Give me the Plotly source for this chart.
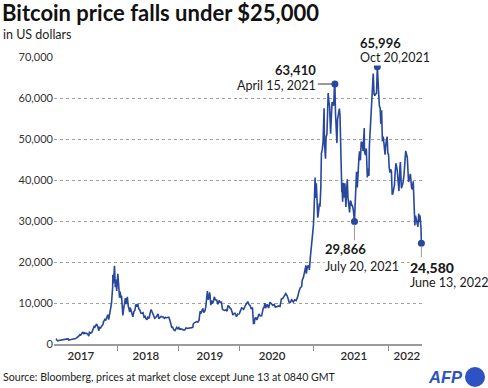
import plotly.graph_objects as go

# ---------------- data ----------------
dates_2017_2019 = [
    "2017-01-01", "2017-01-04", "2017-01-07", "2017-01-11", "2017-01-18", "2017-01-25",
    "2017-02-01", "2017-02-08", "2017-02-15", "2017-02-22", "2017-03-01", "2017-03-08",
    "2017-03-15", "2017-03-18", "2017-03-25", "2017-04-01", "2017-04-08", "2017-04-15",
    "2017-04-22", "2017-04-29", "2017-05-06", "2017-05-13", "2017-05-20", "2017-05-25",
    "2017-05-27", "2017-06-03", "2017-06-11", "2017-06-15", "2017-06-20", "2017-06-27",
    "2017-07-04", "2017-07-11", "2017-07-16", "2017-07-20", "2017-07-27", "2017-08-03",
    "2017-08-10", "2017-08-17", "2017-08-22", "2017-08-31", "2017-09-01", "2017-09-08",
    "2017-09-14", "2017-09-18", "2017-09-25", "2017-10-02", "2017-10-09", "2017-10-12",
    "2017-10-20", "2017-10-25", "2017-11-01", "2017-11-07", "2017-11-12", "2017-11-17",
    "2017-11-22", "2017-11-29", "2017-12-01", "2017-12-06", "2017-12-07", "2017-12-10",
    "2017-12-13", "2017-12-17", "2017-12-22", "2017-12-26", "2017-12-30",
    "2018-01-03", "2018-01-06", "2018-01-10", "2018-01-16", "2018-01-20", "2018-01-24",
    "2018-01-28", "2018-02-01", "2018-02-05", "2018-02-09", "2018-02-15", "2018-02-20",
    "2018-02-25", "2018-03-04", "2018-03-09", "2018-03-14", "2018-03-18", "2018-03-21",
    "2018-03-28", "2018-04-01", "2018-04-06", "2018-04-12", "2018-04-18", "2018-04-24",
    "2018-05-01", "2018-05-05", "2018-05-12", "2018-05-18", "2018-05-24", "2018-05-31",
    "2018-06-06", "2018-06-12", "2018-06-18", "2018-06-24", "2018-06-29", "2018-07-05",
    "2018-07-12", "2018-07-17", "2018-07-24", "2018-07-31", "2018-08-07", "2018-08-11",
    "2018-08-14", "2018-08-21", "2018-08-28", "2018-09-04", "2018-09-08", "2018-09-15",
    "2018-09-22", "2018-09-29", "2018-10-06", "2018-10-11", "2018-10-18", "2018-10-25",
    "2018-11-01", "2018-11-07", "2018-11-14", "2018-11-19", "2018-11-20", "2018-11-25",
    "2018-11-28", "2018-12-03", "2018-12-07", "2018-12-14", "2018-12-19", "2018-12-24",
    "2018-12-28", "2018-12-31",
    "2019-01-06", "2019-01-10", "2019-01-17", "2019-01-24", "2019-01-31", "2019-02-07",
    "2019-02-14", "2019-02-19", "2019-02-24", "2019-03-03", "2019-03-10", "2019-03-17",
    "2019-03-24", "2019-03-31", "2019-04-02", "2019-04-09", "2019-04-16", "2019-04-23",
    "2019-04-30", "2019-05-07", "2019-05-11", "2019-05-14", "2019-05-17", "2019-05-21",
    "2019-05-26", "2019-05-30", "2019-06-04", "2019-06-11", "2019-06-16", "2019-06-22",
    "2019-06-26", "2019-06-27", "2019-07-02", "2019-07-09", "2019-07-12", "2019-07-16",
    "2019-07-21", "2019-07-26", "2019-08-01", "2019-08-06", "2019-08-13", "2019-08-20",
    "2019-08-28", "2019-09-04", "2019-09-11", "2019-09-18", "2019-09-24", "2019-09-30",
    "2019-10-08", "2019-10-15", "2019-10-22", "2019-10-26", "2019-11-01", "2019-11-08",
    "2019-11-15", "2019-11-22", "2019-11-25", "2019-12-01", "2019-12-08", "2019-12-17",
    "2019-12-24", "2019-12-31",
]
prices_2017_2019 = [
    998, 1130, 900, 780, 870, 890,
    990, 1060, 1010, 1120, 1190, 1150,
    1250, 970, 960, 1080, 1180, 1180,
    1230, 1350, 1550, 1720, 2040, 2400,
    2050, 2520, 2950, 2440, 2740, 2580,
    2600, 2320, 1930, 2860, 2680, 2800,
    3420, 4300, 4090, 4700, 4890, 4230,
    3230, 4070, 3930, 4400, 4780, 5430,
    6000, 5740, 6750, 7140, 5950, 7790,
    8230, 9890, 10860, 13800, 16870, 14800,
    16400, 19100, 13830, 15750, 12950,
    15200, 17100, 14900, 11300, 12800, 11200,
    11800, 9150, 6950, 8300, 10100, 11200,
    9700, 11500, 9300, 8100, 7800, 8900,
    7900, 6800, 6630, 7900, 8200, 9650,
    9100, 9850, 8500, 8250, 7500, 7500,
    7650, 6550, 6750, 6150, 5900, 6550,
    6250, 7320, 8400, 7730, 6990, 6240,
    6270, 6500, 7100, 7360, 6200, 6520,
    6720, 6620, 6590, 6250, 6480, 6400,
    6380, 6530, 5740, 4800, 4450, 3930,
    4280, 3850, 3400, 3240, 3690, 4060,
    3880, 3740,
    4040, 3630, 3680, 3600, 3460, 3400,
    3590, 3920, 3800, 3820, 3920, 4020,
    3990, 4100, 4880, 5170, 5230, 5470,
    5320, 5820, 7210, 8000, 7360, 7980,
    8700, 8660, 7680, 8050, 8990, 10700,
    12900, 11300, 10800, 12570, 11800, 9480,
    10600, 9860, 10400, 11500, 10800, 10730,
    9720, 10620, 10160, 10200, 8500, 8290,
    8200, 8360, 8020, 9250, 9260, 8800,
    8500, 7620, 7050, 7420, 7510, 6640,
    7320, 7200,
]

dates_2020_2022 = [
    "2020-01-01", "2020-01-07", "2020-01-14", "2020-01-19", "2020-01-24", "2020-02-01",
    "2020-02-09", "2020-02-13", "2020-02-19", "2020-02-25", "2020-03-01", "2020-03-07",
    "2020-03-12", "2020-03-16", "2020-03-19", "2020-03-23", "2020-03-29", "2020-04-05",
    "2020-04-08", "2020-04-14", "2020-04-21", "2020-04-29", "2020-05-03", "2020-05-07",
    "2020-05-10", "2020-05-18", "2020-05-25", "2020-06-01", "2020-06-08", "2020-06-15",
    "2020-06-22", "2020-06-27", "2020-07-05", "2020-07-12", "2020-07-20", "2020-07-27",
    "2020-08-02", "2020-08-10", "2020-08-17", "2020-08-24", "2020-09-03", "2020-09-08",
    "2020-09-15", "2020-09-23", "2020-09-30", "2020-10-07", "2020-10-14", "2020-10-21",
    "2020-10-27", "2020-11-03", "2020-11-06", "2020-11-12", "2020-11-17", "2020-11-24",
    "2020-11-26", "2020-12-01", "2020-12-07", "2020-12-11", "2020-12-16", "2020-12-20",
    "2020-12-23", "2020-12-27", "2020-12-31",
    "2021-01-03", "2021-01-06", "2021-01-08", "2021-01-11", "2021-01-14", "2021-01-17",
    "2021-01-21", "2021-01-25", "2021-01-29", "2021-02-01", "2021-02-05", "2021-02-08",
    "2021-02-12", "2021-02-16", "2021-02-21", "2021-02-23", "2021-02-28", "2021-03-03",
    "2021-03-07", "2021-03-10", "2021-03-13", "2021-03-17", "2021-03-20", "2021-03-25",
    "2021-03-28", "2021-04-01", "2021-04-05", "2021-04-09", "2021-04-13", "2021-04-15",
    "2021-04-18", "2021-04-22", "2021-04-25", "2021-04-28", "2021-05-03", "2021-05-07",
    "2021-05-10", "2021-05-12", "2021-05-16", "2021-05-19", "2021-05-21", "2021-05-23",
    "2021-05-26", "2021-05-29", "2021-06-03", "2021-06-08", "2021-06-11", "2021-06-15",
    "2021-06-18", "2021-06-22", "2021-06-26", "2021-06-30", "2021-07-03", "2021-07-07",
    "2021-07-10", "2021-07-14", "2021-07-17", "2021-07-20", "2021-07-23", "2021-07-26",
    "2021-07-30", "2021-08-03", "2021-08-07", "2021-08-11", "2021-08-14", "2021-08-18",
    "2021-08-22", "2021-08-27", "2021-08-31", "2021-09-04", "2021-09-06", "2021-09-07",
    "2021-09-12", "2021-09-16", "2021-09-21", "2021-09-25", "2021-09-29", "2021-10-01",
    "2021-10-05", "2021-10-09", "2021-10-13", "2021-10-16", "2021-10-20", "2021-10-24",
    "2021-10-28", "2021-11-01", "2021-11-05", "2021-11-09", "2021-11-12", "2021-11-16",
    "2021-11-19", "2021-11-23", "2021-11-26", "2021-11-30", "2021-12-04", "2021-12-08",
    "2021-12-13", "2021-12-17", "2021-12-21", "2021-12-27", "2021-12-31",
    "2022-01-03", "2022-01-06", "2022-01-10", "2022-01-13", "2022-01-17", "2022-01-21",
    "2022-01-24", "2022-01-28", "2022-02-01", "2022-02-04", "2022-02-08", "2022-02-10",
    "2022-02-14", "2022-02-18", "2022-02-23", "2022-02-28", "2022-03-02", "2022-03-07",
    "2022-03-11", "2022-03-15", "2022-03-20", "2022-03-24", "2022-03-28", "2022-04-01",
    "2022-04-05", "2022-04-11", "2022-04-15", "2022-04-20", "2022-04-26", "2022-04-30",
    "2022-05-04", "2022-05-06", "2022-05-09", "2022-05-12", "2022-05-15", "2022-05-19",
    "2022-05-23", "2022-05-27", "2022-05-31", "2022-06-03", "2022-06-06", "2022-06-09",
    "2022-06-11", "2022-06-12", "2022-06-13",
]
prices_2020_2022 = [
    7200, 8160, 8820, 8700, 8440, 9380,
    10150, 10350, 9600, 9320, 8560, 8900,
    4970, 5020, 6190, 6490, 5880, 6780,
    7320, 6840, 6880, 8800, 8900, 9980,
    8720, 9670, 8790, 10200, 9760, 9430,
    9660, 9010, 9070, 9290, 9160, 11000,
    11060, 11880, 12300, 11750, 10170, 10130,
    10790, 10240, 10780, 10600, 11430, 12820,
    13650, 14030, 15570, 16300, 17650, 19160,
    17150, 18800, 19190, 18060, 21310, 23480,
    23240, 26270, 29000,
    32800, 36800, 40600, 35600, 39200, 35800,
    30800, 32300, 34300, 33500, 38000, 46500,
    47400, 49200, 57500, 48900, 45200, 50500,
    51200, 55900, 61200, 58900, 58100, 51300,
    55800, 59000, 58700, 58100, 63100, 63410,
    56200, 51700, 49000, 54800, 57100, 57400,
    55800, 49500, 46400, 37000, 37300, 34700,
    39300, 35700, 39200, 33400, 37300, 40200,
    35800, 32500, 32100, 35000, 34700, 33800,
    33700, 32800, 31800, 29866, 33600, 37300,
    42000, 38200, 44600, 45600, 47000, 44800,
    49300, 49000, 47100, 50000, 52700, 46900,
    46100, 47700, 40600, 42800, 41000, 48200,
    51500, 54900, 57300, 61500, 65996, 60900,
    60600, 61000, 61100, 67600, 64200, 60100,
    58100, 57500, 53700, 57000, 49400, 50600,
    46700, 46200, 48900, 50600, 46300,
    46400, 43100, 41800, 42600, 42200, 36400,
    36700, 37700, 38700, 41600, 44100, 43600,
    42600, 40000, 37300, 43200, 44400, 38000,
    38800, 39300, 41300, 44000, 47100, 46300,
    45500, 39500, 40500, 41500, 38100, 37700,
    39700, 36000, 30100, 28900, 31300, 30300,
    29100, 28600, 31800, 29700, 31400, 30100,
    28400, 26600, 24580,
]

# Highlighted points (the reference places the "Oct 20" dot at the top of the line)
marked_dates = ["2021-04-15", "2021-11-09", "2021-07-20", "2022-06-13"]
marked_values = [63410, 67600, 29866, 24580]
marked_numbers = ["63,410", "65,996", "29,866", "24,580"]
marked_labels = ["April 15, 2021", "Oct 20,2021", "July 20, 2021", "June 13, 2022"]

year_labels = ["2017", "2018", "2019", "2020", "2021", "2022"]
year_label_dates = ["2017-05-30", "2018-06-23", "2019-07-11",
                    "2020-06-11", "2021-07-17", "2022-04-03"]
year_starts_a = ["2018-01-01", "2019-01-01", "2020-01-01"]
year_starts_b = ["2021-01-01", "2022-01-01"]
y_ticks = [0, 10000, 20000, 30000, 40000, 50000, 60000, 70000]

# ---------------- styling ----------------
LINE = "#27489c"
FONT = "Lato"
W, H = 488, 388
ML, MR, MT, MB = 54, 66, 57, 44
PW = W - ML - MR
PH = H - MT - MB
SPLIT = (239 - ML) / PW


def px(xp):
    return (xp - ML) / PW


def py(yp):
    return (H - MB - yp) / PH


fig = go.Figure()
fig.add_trace(go.Scatter(x=dates_2017_2019, y=prices_2017_2019, mode="lines",
                         line=dict(color=LINE, width=1.6), xaxis="x", yaxis="y",
                         hoverinfo="skip"))
fig.add_trace(go.Scatter(x=dates_2020_2022, y=prices_2020_2022, mode="lines",
                         line=dict(color=LINE, width=1.6), xaxis="x2", yaxis="y",
                         hoverinfo="skip"))
fig.add_trace(go.Scatter(x=marked_dates, y=marked_values, mode="markers",
                         marker=dict(color=LINE, size=7), xaxis="x2", yaxis="y",
                         hoverinfo="skip", cliponaxis=False))

axis_common = dict(
    type="date", showline=True, linecolor="#9b9b9b", linewidth=1.5,
    showgrid=False, zeroline=False, ticks="",
    tickfont=dict(family=FONT, size=11.5, color="#2a2a2a", weight=600),
    fixedrange=True,
)
fig.update_layout(
    xaxis=dict(domain=[0, SPLIT], range=["2016-12-20", "2020-01-01"],
               tickmode="array", tickvals=year_label_dates[:3], ticktext=year_labels[:3],
               minor=dict(tickmode="array", tickvals=year_starts_a, ticks="outside",
                          ticklen=5, tickcolor="#8a8a8a", tickwidth=1, showgrid=False),
               anchor="y", **axis_common),
    xaxis2=dict(domain=[SPLIT, 1], range=["2020-01-01", "2022-06-16"],
                tickmode="array", tickvals=year_label_dates[3:], ticktext=year_labels[3:],
                minor=dict(tickmode="array", tickvals=year_starts_b, ticks="outside",
                           ticklen=5, tickcolor="#8a8a8a", tickwidth=1, showgrid=False),
                anchor="y", **axis_common),
    yaxis=dict(range=[0, 70000], tickmode="array", tickvals=y_ticks, tickformat=",",
               showgrid=True, gridcolor="#a0a0a0", griddash="dot", gridwidth=1,
               zeroline=False, showline=False, ticks="",
               tickfont=dict(family=FONT, size=11, color="#333333"), fixedrange=True),
)

annotations = []
shapes = []
# number/date labels next to the highlighted points
num_font = dict(family=FONT, size=13, color="#1a1a1a", weight=700)
date_font = dict(family=FONT, size=12.5, color="#1a1a1a")
label_cfg = [
    # xanchor, xshift, number yshift, date yshift
    ("right", -18, 14, -1),
    ("left", -18.5, 24, 9.5),
    ("left", -30, -27, -44.5),
    ("left", -12.5, -24, -39),
]
for d, v, num, lab, (xa, xs, ys1, ys2) in zip(marked_dates, marked_values,
                                               marked_numbers, marked_labels, label_cfg):
    nf = dict(num_font)
    if num == "24,580":
        nf.update(size=14, weight=900)
    annotations.append(dict(xref="x2", yref="y", x=d, y=v, text=num, showarrow=False,
                            xanchor=xa, yanchor="middle", xshift=xs, yshift=ys1,
                            font=nf, bgcolor="white", borderpad=0))
    annotations.append(dict(xref="x2", yref="y", x=d, y=v, text=lab, showarrow=False,
                            xanchor=xa, yanchor="middle", xshift=xs, yshift=ys2,
                            font=date_font, bgcolor="white", borderpad=0))

# leader lines
shapes.append(dict(type="line", xref="x2", yref="y", xsizemode="pixel",
                   xanchor=marked_dates[0], x0=-17, x1=0, y0=marked_values[0],
                   y1=marked_values[0], line=dict(color="#333333", width=1), layer="below"))
shapes.append(dict(type="line", xref="x2", yref="y", ysizemode="pixel",
                   x0=marked_dates[2], x1=marked_dates[2], yanchor=marked_values[2],
                   y0=-3, y1=-19, line=dict(color="#9a9a9a", width=1)))
shapes.append(dict(type="line", xref="x2", yref="y", ysizemode="pixel",
                   x0=marked_dates[3], x1=marked_dates[3], yanchor=marked_values[3],
                   y0=-3, y1=-14, line=dict(color="#9a9a9a", width=1)))

# subtitle, source, logo
annotations.append(dict(xref="paper", yref="paper", x=px(1), y=py(34), text="in US dollars",
                        showarrow=False, xanchor="left", yanchor="middle",
                        font=dict(family=FONT, size=12.5, color="#222222")))
annotations.append(dict(xref="paper", yref="paper", x=px(1), y=py(377),
                        text="Source: Bloomberg, prices at market close except June 13 at 0840 GMT",
                        showarrow=False, xanchor="left", yanchor="middle",
                        font=dict(family=FONT, size=10.6, color="#222222")))
annotations.append(dict(xref="paper", yref="paper", x=px(426), y=py(377), text="<i>AFP</i>",
                        showarrow=False, xanchor="left", yanchor="middle",
                        font=dict(family="Liberation Sans", size=16.5, color="#2d52c4",
                                  weight=900)))
shapes.append(dict(type="circle", xref="paper", yref="paper", xsizemode="pixel",
                   ysizemode="pixel", xanchor=px(475), yanchor=py(377),
                   x0=-10, x1=10, y0=-10, y1=10, fillcolor="#2d52c4", line=dict(width=0)))

fig.update_layout(
    width=W, height=H, autosize=False,
    margin=dict(l=ML, r=MR, t=MT, b=MB, pad=0),
    paper_bgcolor="white", plot_bgcolor="white",
    showlegend=False,
    title=dict(text="<b>Bitcoin price falls under $25,000</b>", xref="container",
               yref="container", x=2 / W, y=1 - 13 / H, xanchor="left", yanchor="middle",
               font=dict(family=FONT, size=22, color="#111111", weight=900)),
    annotations=annotations, shapes=shapes,
)

fig.write_html("out.html", config={"displayModeBar": False},
               post_script="document.body.style.margin='0';document.body.style.overflow='hidden';")
